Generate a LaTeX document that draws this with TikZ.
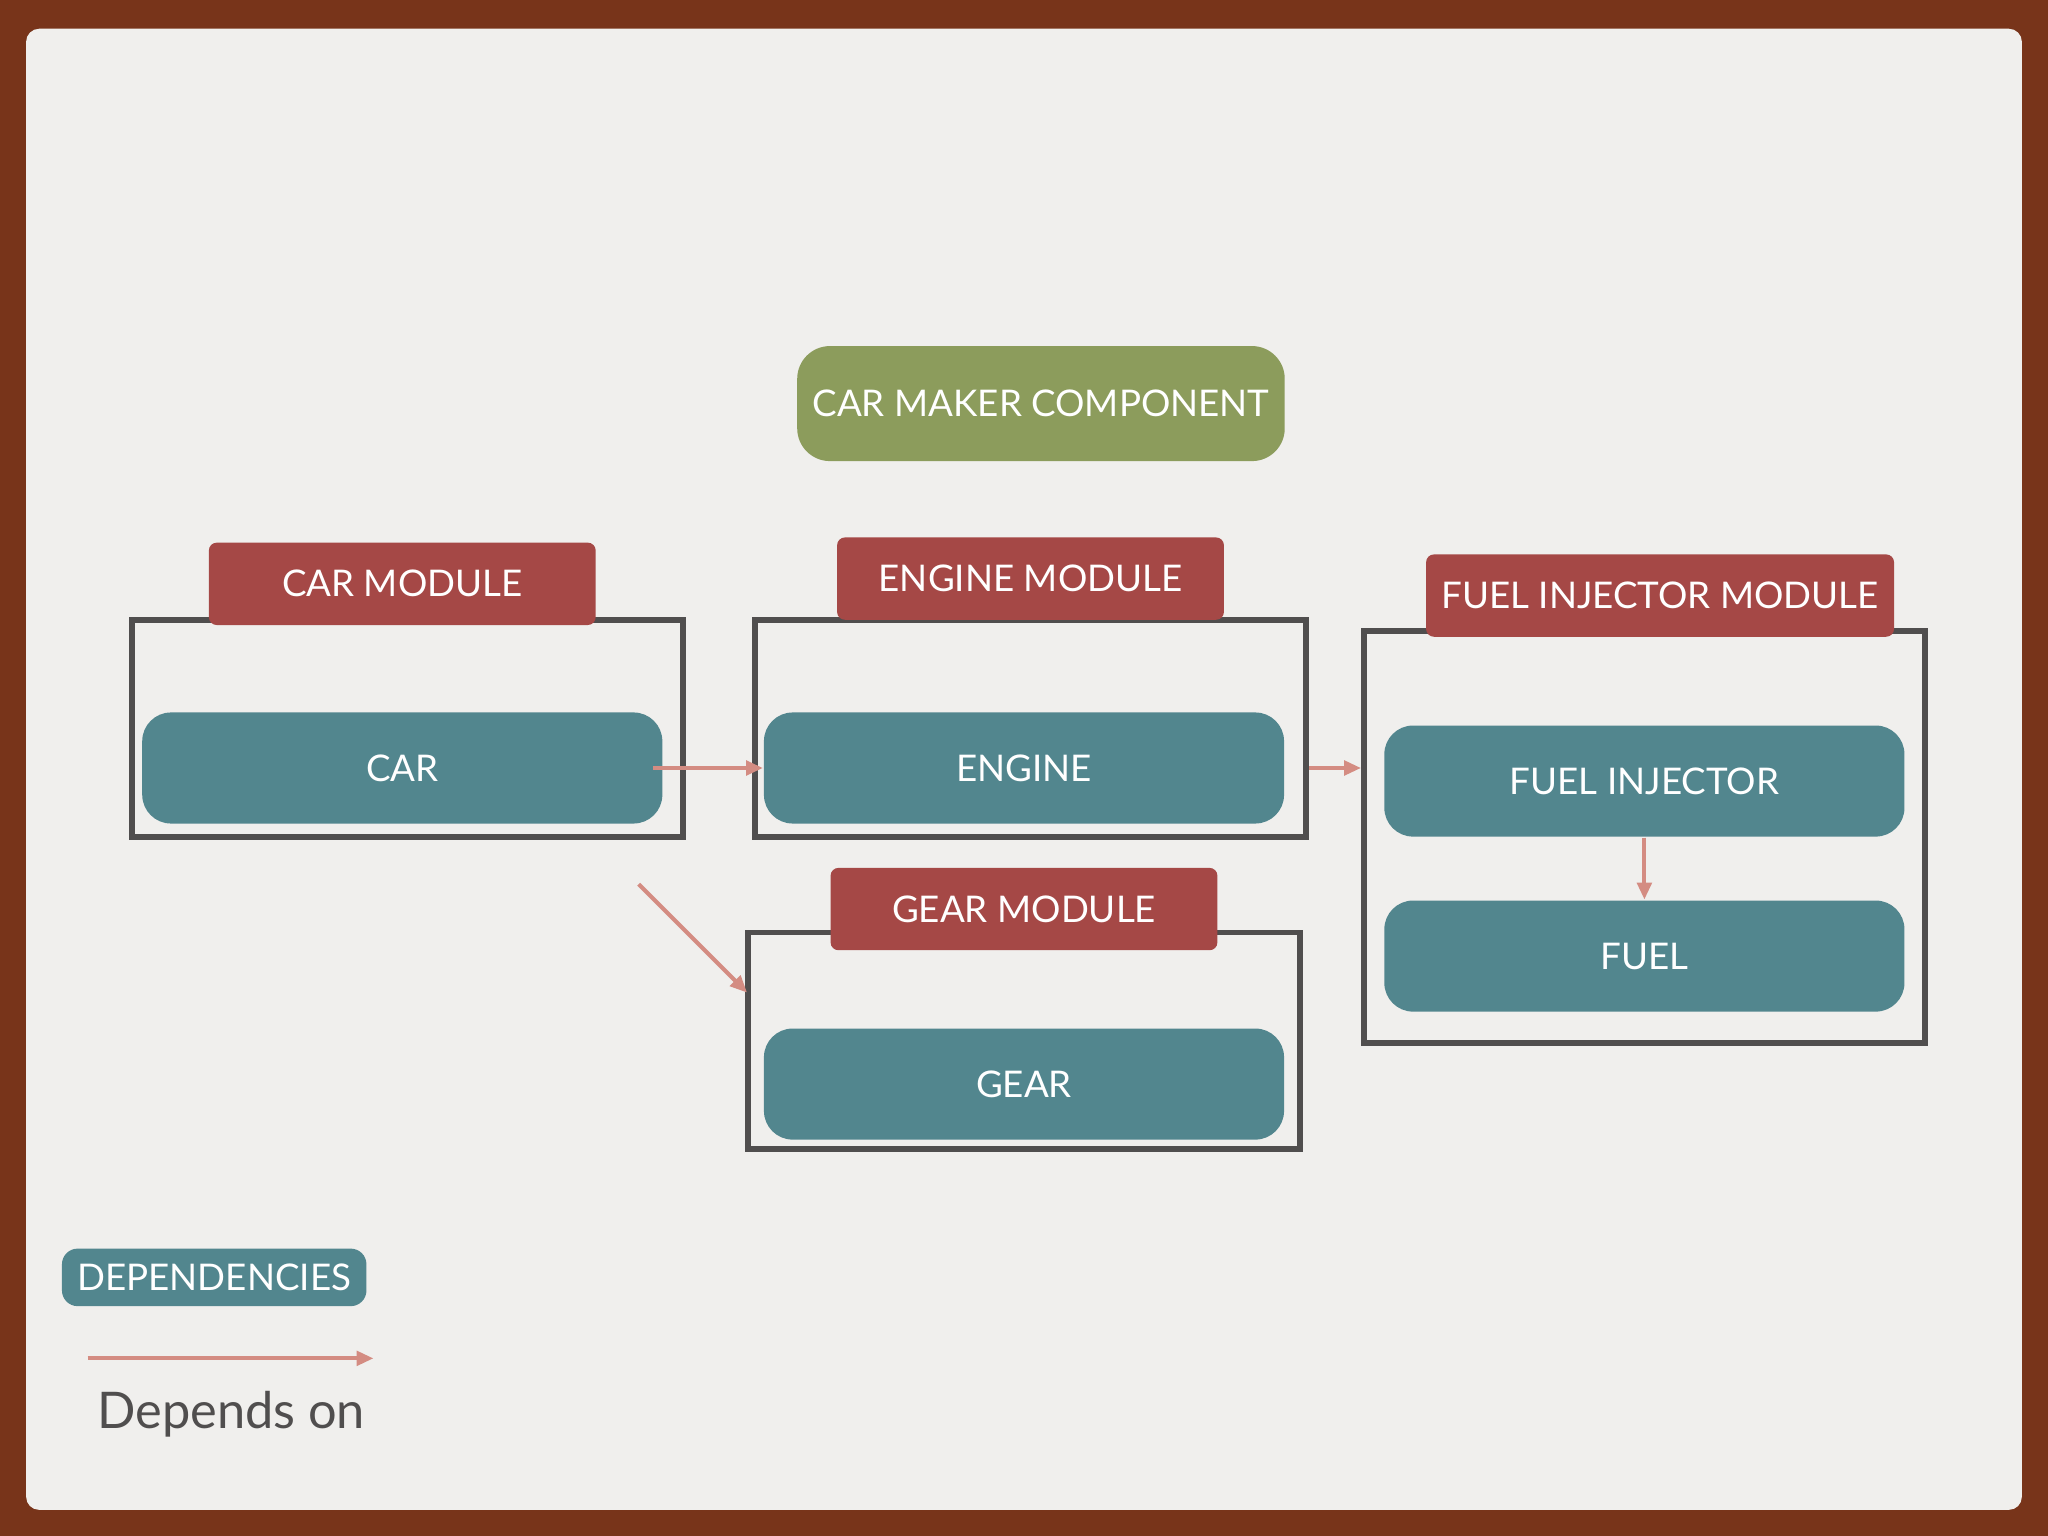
\documentclass[tikz,border=0pt]{standalone}
\usepackage{fontspec}
\setmainfont{Lato}
\usetikzlibrary{arrows.meta, positioning}
\definecolor{frame}{RGB}{120,52,26}
\definecolor{paper}{RGB}{240,239,237}
\definecolor{tealbox}{RGB}{82,134,142}
\definecolor{redbox}{RGB}{165,72,70}
\definecolor{greenbox}{RGB}{140,156,92}
\definecolor{dep}{RGB}{212,140,130}
\definecolor{modline}{RGB}{80,78,78}

\begin{document}
\begin{tikzpicture}[x=0.01cm, y=-0.01cm,
    comp/.style={rectangle, rounded corners=0.22cm, fill=tealbox, text=white, minimum width=3.98cm, minimum height=0.85cm, font=\fontsize{8}{10}\selectfont},
    modlabel/.style={rectangle, rounded corners=0.06cm, fill=redbox, text=white, minimum width=2.96cm, minimum height=0.63cm, font=\fontsize{8}{10}\selectfont},
    modbox/.style={rectangle, draw=modline, line width=1.3pt, inner sep=0pt},
    arrow/.style={-{Triangle[length=0.13cm, width=0.11cm]}, draw=dep, line width=0.9pt}
]
\useasboundingbox (0,0) rectangle (1568,1176);
\fill[frame] (0,0) rectangle (1568,1176);
\fill[paper, rounded corners=0.1cm] (20,22) rectangle (1548,1156);

% Top component
\node[rectangle, rounded corners=0.25cm, fill=greenbox, text=white, minimum width=3.47cm, minimum height=0.88cm, font=\fontsize{8}{10}\selectfont] (maker) at (797,309) {CAR MAKER COMPONENT};

% Module boxes
\node[modbox, minimum width=4.22cm, minimum height=1.66cm] (carbox) at (312,558) {};
\node[modbox, minimum width=4.22cm, minimum height=1.66cm] (enginebox) at (789,558) {};
\node[modbox, minimum width=4.22cm, minimum height=1.66cm] (gearbox) at (784,797) {};
\node[modbox, minimum width=4.29cm, minimum height=3.15cm] (fuelbox) at (1259,641) {};

% Module labels
\node[modlabel] (carmod) at (308,447) {CAR MODULE};
\node[modlabel] (enginemod) at (789,443) {ENGINE MODULE};
\node[modlabel] (gearmod) at (784,696) {GEAR MODULE};
\node[modlabel, minimum width=3.48cm] (fuelmod) at (1271,456) {FUEL INJECTOR MODULE};

% Components
\node[comp] (car) at (308,588) {CAR};
\node[comp] (engine) at (784,588) {ENGINE};
\node[comp] (gear) at (784,830) {GEAR};
\node[comp] (injector) at (1259,598) {FUEL INJECTOR};
\node[comp] (fuel) at (1259,732) {FUEL};

% Dependencies
\coordinate (carend) at (500,588);
\coordinate (gearstart) at (489,677);
\coordinate (gearend) at (572,760);
\draw[arrow] (carend) -- (engine.west);
\draw[arrow] (enginebox.east |- engine) -- (fuelbox.west |- engine);
\draw[arrow] (gearstart) -- (gearend);
\draw[arrow] (injector) -- (fuel);

% Legend
\node[rectangle, rounded corners=0.12cm, fill=tealbox, text=white, minimum width=2.33cm, minimum height=0.43cm, font=\fontsize{8}{10}\selectfont] (legend) at (164,978) {DEPENDENCIES};
\coordinate (legstart) at (67,1040);
\coordinate (legend-end) at (286,1040);
\draw[arrow] (legstart) -- (legend-end);
\node[text=modline, font=\fontsize{11}{13}\selectfont] (depends) at (177,1083) {Depends on};
\end{tikzpicture}
\end{document}
